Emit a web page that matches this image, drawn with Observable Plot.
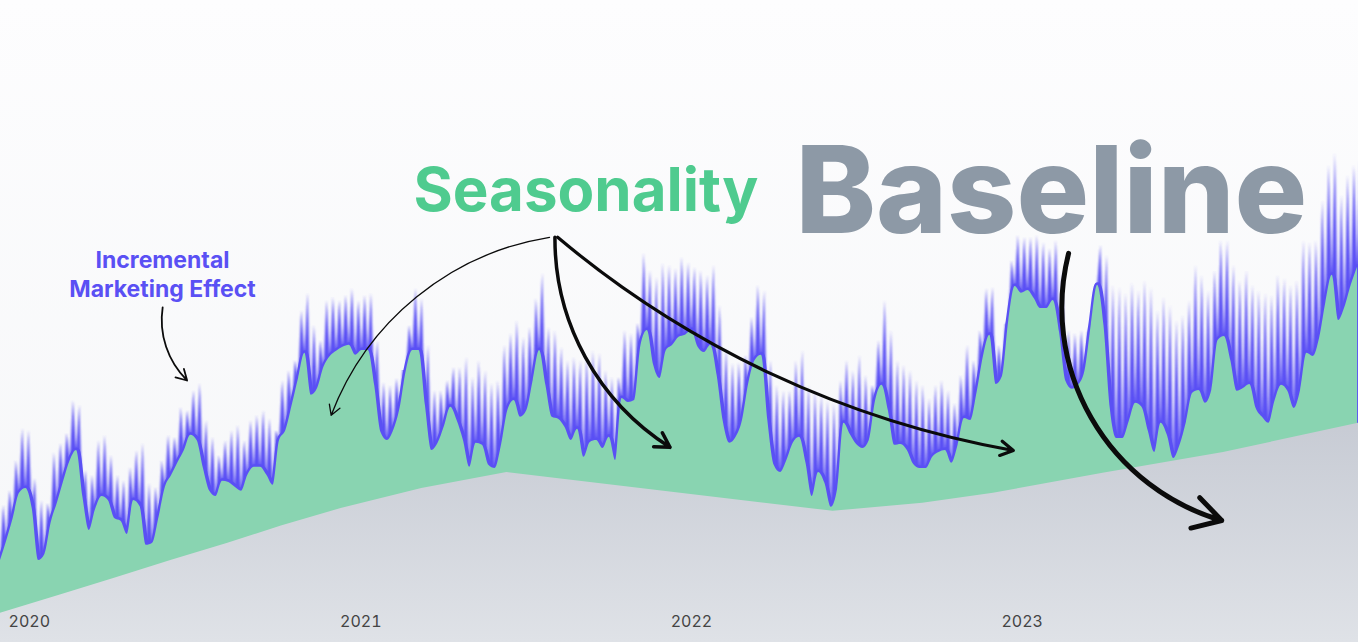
<!DOCTYPE html>
<html>
<head>
<meta charset="utf-8">
<script src="https://cdn.jsdelivr.net/npm/d3@7"></script>
<script src="https://cdn.jsdelivr.net/npm/@observablehq/plot@0.6"></script>
<style>
  html, body { margin: 0; padding: 0; overflow: hidden; }
  body { width: 1358px; height: 642px; background: linear-gradient(#fdfdfe, #f5f6f8); }
  #chart svg { display: block; }
</style>
</head>
<body>
<div id="chart"></div>
<script>
// ---- data (weekly, starting 2020-01-01) ----
const startDate = "2020-01-01";
const endDate = "2024-02-08";
const yearTicks = [2020, 2021, 2022, 2023];

// baseline + seasonality level (top of the green band), weekly
const seasonalityLevel = [
  20.5, 25.5, 31, 37.3, 38.5, 33.5, 20.5, 22, 30, 35,
  40.5, 45.5, 48, 36.3, 28, 33.3, 36.5, 35.5, 31, 30.3,
  27, 35.5, 34, 24.3, 24.8, 31.3, 38.8, 41.8, 45, 48,
  51.8, 50.5, 43.5, 37.8, 36.5, 40.3, 40, 38.8, 37.8, 41.8,
  43.8, 43.8, 41.8, 39.3, 50.5, 53, 59.3, 66, 72.3, 61.8,
  63.5, 68.8, 71.5, 72.8, 73.8, 74.3, 71.8, 73, 73, 64.3,
  52.5, 50.5, 53, 58.5, 68, 73, 73, 59.3, 48, 49.8,
  54, 58.8, 55.5, 50.5, 43.8, 49.8, 49.3, 44.3, 43.5, 49.3,
  58, 60.5, 56.3, 58, 65.5, 73, 64.3, 56.3, 55.8, 53.8,
  50.5, 53.3, 46.3, 50, 50.5, 48.5, 51.3, 45.5, 61, 60,
  60.5, 74.3, 78, 69.3, 66, 73, 74.3, 76.3, 76.8, 78,
  73.8, 72.5, 74.3, 66.8, 55, 49.8, 51.3, 55.5, 64.8, 70.5,
  71.8, 55.5, 44.3, 42.5, 45.5, 49.8, 51.3, 45, 36.5, 42.5,
  39.8, 33.8, 38.3, 54.8, 52, 49.5, 48.5, 50.5, 60.5, 64.3,
  58, 49.3, 49.5, 48, 44.5, 43.5, 43.5, 46.3, 47.5, 48,
  44.8, 49.3, 56, 55.5, 62.5, 71.5, 76.8, 64.5, 66.5, 80.5,
  89, 87.3, 88, 86, 83.5, 83.5, 85.5, 77.5, 65.3, 63.3,
  64.3, 67.8, 79.3, 89.3, 79.3, 58.5, 51, 51, 55.3, 59.8,
  58.8, 52.8, 47.5, 54.8, 51.8, 46, 49.3, 55, 62.3, 63,
  59.8, 63, 75.5, 76.5, 70.5, 62.8, 63.5, 64.5, 58.5, 56.3,
  54.8, 60.5, 64.3, 62.8, 58.5, 63, 72.3, 71.5, 76, 85,
  91.8, 80.5, 83.8, 89.3, 93.8
];

// weekly peak of total (baseline + seasonality + incremental marketing)
const totalPeak = [
  34.3, 38, 45.5, 53.5, 53, 41, 35.5, 34.8, 47.5, 49.8,
  52.3, 60.5, 59.3, 43, 41.8, 50.5, 51.8, 46.8, 41.8, 40.5,
  43.8, 48, 49.8, 39.8, 38.8, 45.5, 51.8, 51.3, 58.8, 58,
  63, 64.8, 55.5, 51.3, 46.8, 50.5, 53, 54.3, 50.5, 55.5,
  56.8, 58, 56, 53, 65.5, 68, 70.5, 83, 87.3, 79.3,
  75.5, 85.5, 86.3, 85.5, 86.8, 88.5, 85.5, 86.8, 87.3, 75.5,
  65, 64.3, 66, 68, 79.3, 88.5, 86, 74.3, 63, 63,
  65.5, 68.8, 68.8, 71.3, 66.3, 70.5, 68, 64.8, 65.5, 74.3,
  77.3, 80.5, 76.3, 78.8, 86, 92.3, 78.8, 78, 73.8, 70.5,
  71.3, 70.5, 71.3, 73, 72.3, 68, 66.3, 66.3, 78, 77.3,
  79.8, 97.3, 93, 91.3, 94.8, 94.3, 93.5, 96.3, 95, 93.8,
  93, 91.8, 94.3, 84.3, 73.5, 69.8, 70, 71.8, 81.3, 89.3,
  88, 70.5, 64.3, 63, 63, 70.5, 73, 64.3, 63, 61.8,
  60.5, 59.8, 65.5, 70.5, 68, 71.8, 66.8, 64.3, 75.5, 85.5,
  78, 70.5, 69.3, 68, 65.5, 64.3, 61, 64.3, 65.5, 63,
  59.8, 66.8, 74.3, 70.5, 78, 88.5, 88.8, 74.3, 79.3, 95.5,
  101.8, 101.3, 101.3, 101.8, 100, 98.5, 100.5, 93, 78, 77.3,
  78, 77.3, 85.5, 99.3, 96.8, 89.3, 88.8, 87.3, 90, 88,
  90.5, 88.8, 83, 86.3, 84.3, 80.5, 81.8, 85.5, 94.3, 91.8,
  88, 93, 100.5, 100.5, 94.3, 90.5, 93, 89.3, 88, 87.3,
  86.8, 91.8, 91, 89.3, 90.5, 100.5, 100, 100.5, 110.5, 119.3,
  122.3, 111.8, 116.8, 119.3, 123
];

// baseline trend
const baselineDates = ["2020-01-01", "2020-03-07", "2020-05-05", "2020-07-07", "2020-09-08", "2020-11-06",
  "2021-01-11", "2021-04-10", "2021-07-13", "2022-07-08", "2022-10-15", "2023-01-01", "2023-05-02",
  "2023-09-12", "2024-02-08"];
const baselineValues = [7.3, 11.9, 16, 20.5, 24.8, 29.1, 33.5, 38.5, 42.5, 32.8, 34.8, 37.3, 42.3, 47.5, 54.8];

// ---- tables for the library ----
const t0 = new Date(startDate);
const weekDates = seasonalityLevel.map((_, i) => d3.utcDay.offset(t0, 7 * i));
const seasonRows = seasonalityLevel.map((v, i) => ({date: weekDates[i], value: v}));
const totalRows = seasonalityLevel.flatMap((v, i) => [
  {date: weekDates[i], value: v},
  {date: d3.utcHour.offset(weekDates[i], 84), value: totalPeak[i]}
]);
const baselineRows = baselineDates.map((d, i) => ({date: new Date(d), value: baselineValues[i]}));

const PURPLE = "#5a50f4", GREEN = "#89d4b1";
const FONT = "Inter, 'Open Sans', sans-serif";

function arrow(a, opts) {
  return Plot.arrow([a], {x1: "x1", y1: "y1", x2: "x2", y2: "y2", stroke: "#0b0b0b", strokeLinecap: "round", ...opts});
}
const D = (s) => new Date(s);

const plot = Plot.plot({
  width: 1358,
  height: 642,
  marginTop: 2, marginRight: 0, marginBottom: 0, marginLeft: 0,
  x: {type: "utc", domain: [new Date(startDate), new Date(endDate)]},
  y: {domain: [0, 160], axis: null},
  style: {fontFamily: FONT, background: "transparent", overflow: "visible"},
  marks: [
    Plot.areaY(totalRows, {x: "date", y1: 0, y2: "value", fill: PURPLE, curve: "linear", className: "incremental"}),
    Plot.lineY(seasonRows, {x: "date", y: "value", stroke: PURPLE, strokeWidth: 6, curve: "monotone-x"}),
    Plot.areaY(seasonRows, {x: "date", y1: 0, y2: "value", fill: GREEN, curve: "monotone-x"}),
    Plot.areaY(baselineRows, {x: "date", y1: 0, y2: "value", fill: "url(#grayGrad)", curve: "linear"}),
    Plot.axisX({
      ticks: yearTicks.map(y => new Date(Date.UTC(y, 0, 1))),
      tickFormat: "%Y", tickSize: 0, tickPadding: 0,
      textAnchor: "start", dx: 8, dy: -27, fontSize: 16, color: "#444444"
    }),
    // annotation arrows
    arrow({x1: D("2020-06-28"), y1: 83.8, x2: D("2020-07-25"), y2: 65.5}, {bend: -27, strokeWidth: 1.8, headLength: 10}),
    arrow({x1: D("2021-08-29"), y1: 101.3, x2: D("2020-12-31"), y2: 56.8}, {bend: -30, strokeWidth: 1.3, headLength: 13}),
    arrow({x1: D("2021-09-04"), y1: 101.3, x2: D("2022-01-09"), y2: 48.8}, {bend: -29, strokeWidth: 3.5, headLength: 7}),
    arrow({x1: D("2021-09-07"), y1: 101.3, x2: D("2023-01-23"), y2: 48}, {bend: -15, strokeWidth: 3.2, headLength: 6.8}),
    arrow({x1: D("2023-03-25"), y1: 97.3, x2: D("2023-09-10"), y2: 30.5}, {bend: -44, strokeWidth: 5, headLength: 9.5}),
    // labels
    Plot.text(["Incremental\nMarketing Effect"], {
      frameAnchor: "top-left", dx: 162, dy: 245, text: d => d, textAnchor: "middle", lineAnchor: "top",
      lineHeight: 1.27, fontSize: 23, fontWeight: 700, fill: PURPLE
    }),
    Plot.text(["Seasonality"], {
      frameAnchor: "top-left", dx: 413, dy: 166, text: d => d, textAnchor: "start", lineAnchor: "top",
      fontSize: 60, fontWeight: 700, fill: "#4fcb8f", letterSpacing: "-0.4px"
    }),
    Plot.text(["Baseline"], {
      frameAnchor: "top-left", dx: 795, dy: 145, text: d => d, textAnchor: "start", lineAnchor: "top",
      fontSize: 121, fontWeight: 800, fill: "#8d99a6"
    })
  ]
});

const defs = d3.select(plot).insert("defs", ":first-child");
const g = defs.append("linearGradient").attr("id", "grayGrad")
  .attr("gradientUnits", "userSpaceOnUse").attr("x1", 0).attr("y1", 420).attr("x2", 0).attr("y2", 642);
g.append("stop").attr("offset", 0).attr("stop-color", "#c7cbd4");
g.append("stop").attr("offset", 1).attr("stop-color", "#dfe2e7");
// soften the thin tips of the weekly spikes (they fade out in the original)
defs.append("filter").attr("id", "soft").attr("x", "-2%").attr("y", "-5%").attr("width", "104%").attr("height", "110%")
  .append("feGaussianBlur").attr("stdDeviation", "0.8 0.3");
d3.select(plot).select(".incremental").attr("filter", "url(#soft)");

document.getElementById("chart").appendChild(plot);
</script>
</body>
</html>
